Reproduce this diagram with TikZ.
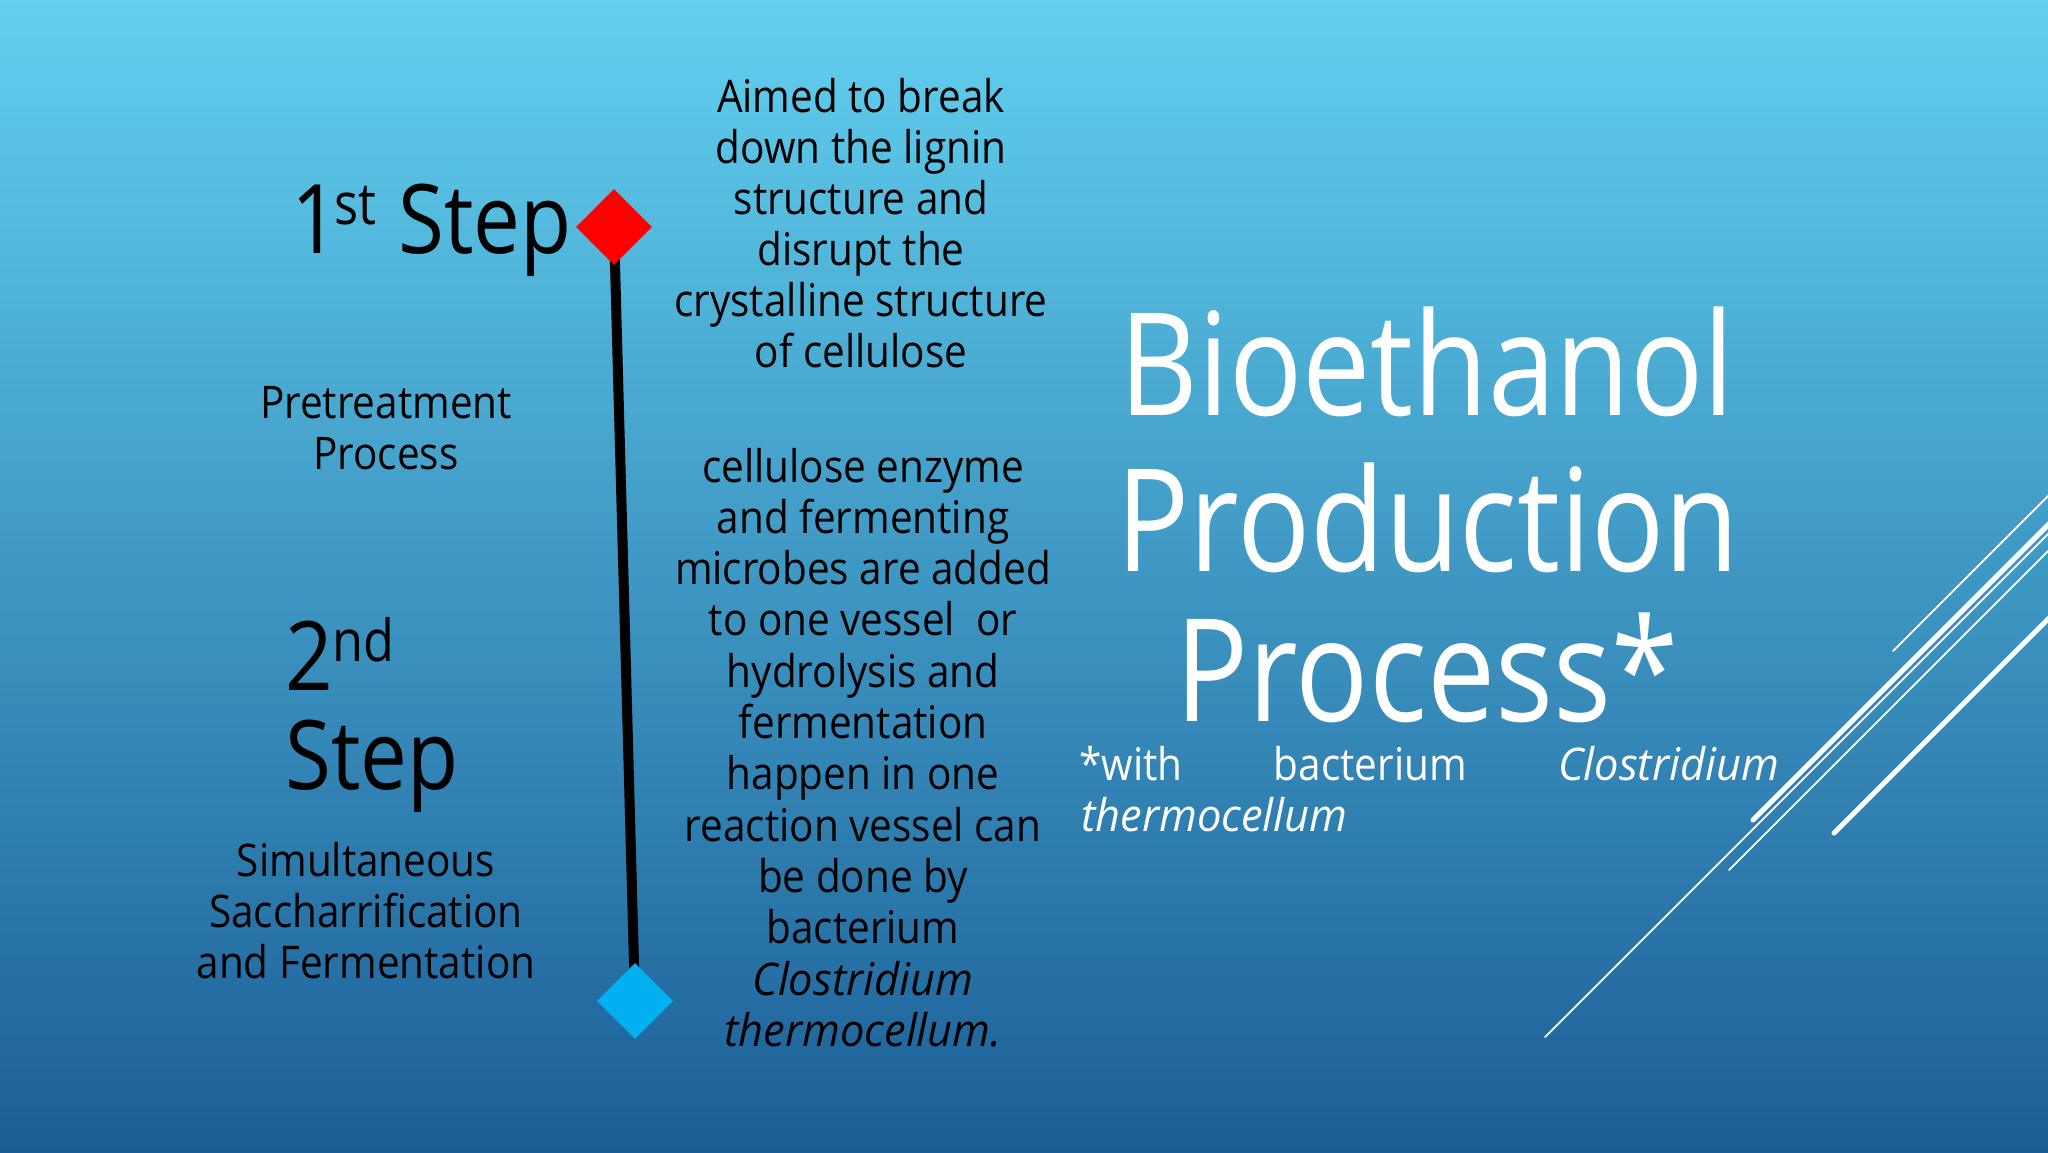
\documentclass[tikz,border=0pt]{standalone}
\usepackage{fontspec}
\setmainfont{Open Sans}
\newfontfamily\titlefont[FakeStretch=0.85]{Open Sans}
\newfontfamily\stepfont[FakeStretch=0.87]{Open Sans}
\newfontfamily\bodyfont[FakeStretch=0.9]{Open Sans}
\newfontfamily\bodyitfont[FakeStretch=0.965]{Open Sans}
\usetikzlibrary{shapes.geometric,backgrounds}
\definecolor{bgtop}{HTML}{62D0EF}
\definecolor{bgmid}{HTML}{3A9ACB}
\definecolor{bgbot}{HTML}{1B5E97}
\definecolor{ltblue}{HTML}{00B0F0}
\newcommand{\supst}[1]{\raisebox{0.3em}{\fontsize{58}{60}\selectfont #1}}
\newcommand{\itx}{\bodyitfont\itshape}
\begin{document}
\begin{tikzpicture}[x=1pt,y=-1pt,
  body/.style={inner sep=0pt, anchor=base, text=black, font={\bodyfont\fontsize{45}{51}\selectfont}},
  foot/.style={inner sep=0pt, anchor=base west, text=white, font={\bodyfont\fontsize{45}{51}\selectfont}},
  bigstep/.style={inner sep=0pt, anchor=base west, text=black, font={\stepfont\fontsize{96}{100}\selectfont}},
  title/.style={inner sep=0pt, anchor=base, text=white, font={\titlefont\fontsize{143}{153}\selectfont}},
  marker/.style={diamond, draw=none, inner sep=0pt, minimum width=76pt, minimum height=76pt},
  thinline/.style={white, line width=1.8pt, line cap=round},
  thickline/.style={white, line width=5pt, line cap=round}]
\useasboundingbox (0,0) rectangle (2048,1152);

% markers
\node[marker, fill=red] (d1) at (614,227) {};
\node[marker, fill=ltblue] (d2) at (635,1001) {};

% left labels
\node[bigstep, anchor=base east] (s1) at (572,253) {1\kern-4pt\supst{st} Step};
\node[bigstep] (s2) at (285,690) {2\supst{nd}};
\node[bigstep] (s3) at (285,789) {Step};
\node[body] (p1) at (386,418) {Pretreatment};
\node[body] (p2) at (386,469) {Process};
\node[body] (q1) at (366,876) {Simultaneous};
\node[body] (q2) at (366,927) {Saccharrification};
\node[body] (q3) at (366,978) {and Fermentation};

% middle blocks
\foreach \t [count=\i from 0] in {Aimed to break, down the lignin, structure and, disrupt the, crystalline structure, of cellulose}
  \node[body] (a\i) at (861,{112+51*\i}) {\t};
\foreach \t [count=\i from 0] in {cellulose enzyme, and fermenting, microbes are added, to one vessel\ \ or, hydrolysis and, fermentation, happen in one, reaction vessel can, be done by, bacterium, {\itx Clostridium}, {\itx thermocellum.}}
  \node[body] (b\i) at (863,{482+51.3*\i}) {\t};

% title
\node[title] (t1) at (1427,415) {Bioethanol};
\node[title] (t2) at (1428,571) {Production};
\node[title] (t3) at (1427,721) {Process*};
\node[foot] (f1) at (1079,780) {\makebox[700pt][l]{*with\hfill bacterium\hfill{\itx Clostridium}}};
\node[foot] (f2) at (1081,831) {\itx thermocellum};

% decorative lines
\draw[thinline] (1545,1037) -- (2060,522);
\draw[thickline] (1753,820) -- (2060,513);
\draw[thinline] (1729,870) -- (2060,539);
\draw[thickline] (1834,833) -- (2060,607);
\draw[thinline] (1893,651) -- (2060,484);

\begin{scope}[on background layer]
  \shade[top color=bgtop, middle color=bgmid, bottom color=bgbot] (0,0) rectangle (2048,1152);
  \draw[line width=10pt, black] (d1.center) -- (d2.center);
\end{scope}
\end{tikzpicture}
\end{document}
